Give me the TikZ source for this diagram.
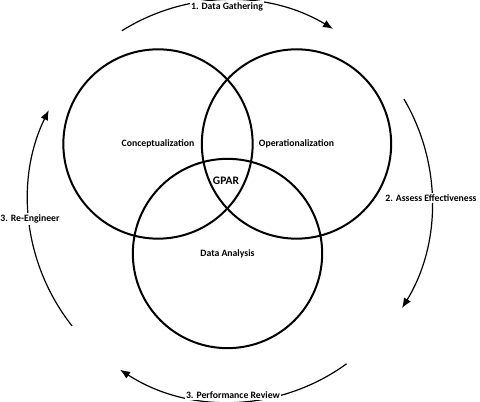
\documentclass[tikz,border=0pt]{standalone}
\usepackage{fontspec}
\setmainfont{Carlito}
\usetikzlibrary{arrows.meta}

\begin{document}
\begin{tikzpicture}[x=0.75pt,y=0.75pt,yscale=-1,xscale=1,
		font=\fontsize{7.3}{9}\selectfont\bfseries,
		venn/.style={draw,circle,line width=1.5pt,minimum size=142pt,inner sep=0pt},
		cyclearc/.style={line width=0.9pt,-{Latex[length=7.5pt,width=6pt]}},
		cyclelbl/.style={fill=white,inner sep=1pt}]
		\useasboundingbox (0,0) rectangle (480,402);
		
		% the three circles
		\node [venn] (concept) at (158,144) {Conceptualization};
		\node [venn] (oper) at (296.5,144) {Operationalization};
		\node [venn] (analysis) at (227.5,253.5) {\raisebox{-1.5pt}{Data Analysis}};
		\node [font=\fontsize{8.6}{10}\selectfont\bfseries] (gpar) at (226,181) {GPAR};
		
		% the cycle round them
		\coordinate (hub) at (229,202);
		\draw [cyclearc] ([shift={(-122:202)}]hub) arc [start angle=-122, end angle=-59, radius=202];
		\draw [cyclearc] ([shift={(-30.5:203)}]hub) arc [start angle=-30.5, end angle=31.5, radius=203];
		\draw [cyclearc] ([shift={(54:200)}]hub) arc [start angle=54, end angle=123, radius=200];
		\draw [cyclearc] ([shift={(141.7:200)}]hub) arc [start angle=141.7, end angle=206, radius=204];
		
		\node [cyclelbl] (gather) at (227,7) {1. Data Gathering};
		\node [cyclelbl] (assess) at (431,198) {2. Assess Effectiveness};
		\node [cyclelbl] (review) at (233,395) {3. Performance Review};
		\node [cyclelbl] (reeng) at (30,219) {3. Re-Engineer};
		
\end{tikzpicture}
\end{document}
